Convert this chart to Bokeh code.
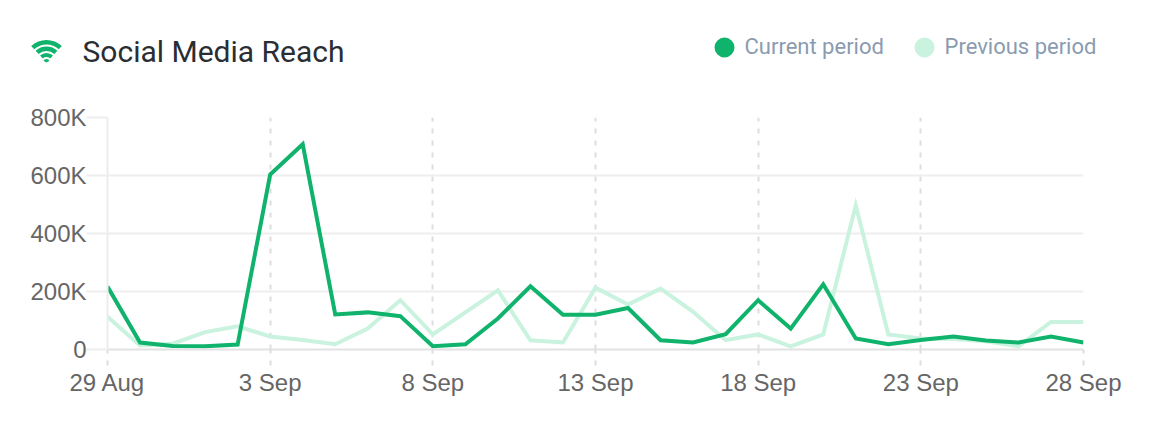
import math
from bokeh.layouts import column
from bokeh.plotting import figure
from bokeh.models import (ColumnDataSource, FixedTicker, Label, Range1d)
from bokeh.embed import file_html
from bokeh.resources import INLINE

day_index = list(range(31))
tick_days = [0, 5, 10, 15, 20, 25, 30]
tick_labels = ["29 Aug", "3 Sep", "8 Sep", "13 Sep", "18 Sep", "23 Sep", "28 Sep"]
y_ticks = [0, 200000, 400000, 600000, 800000]
y_labels = ["0", "200K", "400K", "600K", "800K"]
series_names = ["Current period", "Previous period"]

current_k = [217, 24, 12, 11, 17, 603, 708, 121, 128, 115, 11, 18, 107, 218, 120, 120,
             143, 32, 24, 53, 170, 72, 225, 38, 18, 33, 45, 31, 24, 45, 24]
previous_k = [113, 14, 20, 60, 80, 45, 33, 18, 72, 170, 52, 128, 204, 32, 24, 213,
              155, 210, 130, 32, 52, 11, 52, 497, 52, 38, 36, 28, 11, 95, 95]

GREEN = "#10b36b"
MINT = "#c9f2df"
WIDTH, HEAD = 1152, 100

# ---------- header strip: axis units are page pixels ----------
head = figure(width=WIDTH, height=HEAD, x_range=Range1d(0, WIDTH), y_range=Range1d(HEAD, 0),
              output_backend="svg", toolbar_location=None, outline_line_color=None,
              min_border=0, x_axis_location=None, y_axis_location=None, frame_align=False)
head.grid.visible = False

head.add_layout(Label(x=82, y=61, text="Social Media Reach", text_font="Roboto",
                      text_font_size="30px", text_color="#2a2e33", text_baseline="alphabetic",
                      y_offset=10))

# wifi icon: arc bands around the apex
ICON_X, ICON_Y = 46, 62
for r0, r1 in [(18, 22.5), (11.5, 16), (5.5, 9.5)]:
    head.annular_wedge([ICON_X], [ICON_Y], inner_radius=r0, outer_radius=r1,
                       start_angle=math.radians(47), end_angle=math.radians(133),
                       direction="anticlock", fill_color=GREEN, line_color=None)
head.wedge([ICON_X], [ICON_Y], radius=3.5, start_angle=math.radians(30), end_angle=math.radians(150),
           direction="anticlock", fill_color=GREEN, line_color=None)

# legend: a dot and a text per series
for name, color, dot_x in zip(series_names, [GREEN, MINT], [724, 924]):
    head.scatter([dot_x], [47], marker="circle", size=20, fill_color=color, line_color=None)
    head.add_layout(Label(x=dot_x + 20, y=46, text=name, text_font="Roboto",
                          text_font_size="22px", text_color="#8a9bb0", text_baseline="middle"))

# ---------- chart ----------
source = ColumnDataSource(dict(day=day_index,
                               current=[v * 1000 for v in current_k],
                               previous=[v * 1000 for v in previous_k]))

p = figure(width=WIDTH, height=428 - HEAD, frame_width=976, frame_height=232,
           min_border_left=107, min_border_right=69, min_border_top=117 - HEAD, min_border_bottom=79,
           x_range=Range1d(0, 30), y_range=Range1d(0, 800000), frame_align=False,
           output_backend="svg", toolbar_location=None, outline_line_color=None)

p.line("day", "previous", source=source, line_color=MINT, line_width=4, line_join="miter")
p.line("day", "current", source=source, line_color=GREEN, line_width=4, line_join="miter")

p.xaxis.ticker = FixedTicker(ticks=tick_days)
p.xaxis.major_label_overrides = dict(zip(tick_days, tick_labels))
p.yaxis.ticker = FixedTicker(ticks=y_ticks)
p.yaxis.major_label_overrides = dict(zip(y_ticks, y_labels))

for ax in (p.xaxis[0], p.yaxis[0]):
    ax.major_label_text_font = "Liberation Sans"
    ax.major_label_text_font_size = "24px"
    ax.major_label_text_color = "#666666"
    ax.minor_tick_line_color = None
    ax.major_tick_in = 0
    ax.axis_line_width = 2
    ax.major_tick_line_width = 2

p.xaxis.axis_line_color = "#e2e2e2"
p.xaxis.major_tick_out = 16
p.xaxis.major_tick_line_color = "#dddddd"
p.xaxis.major_tick_line_dash = [5, 7]
p.xaxis.major_label_standoff = 3

p.yaxis.axis_line_color = "#ececec"
p.yaxis.major_tick_out = 21
p.yaxis.major_tick_line_color = "#eeeeee"
p.yaxis.major_label_standoff = 0

p.xgrid.ticker = FixedTicker(ticks=tick_days)
p.xgrid.grid_line_color = "#dddddd"
p.xgrid.grid_line_width = 2
p.xgrid.grid_line_dash = [5, 7]
p.ygrid.ticker = FixedTicker(ticks=y_ticks)
p.ygrid.grid_line_color = "#eeeeee"
p.ygrid.grid_line_width = 2

open("out.html", "w").write(file_html(column(head, p, spacing=0), INLINE))
